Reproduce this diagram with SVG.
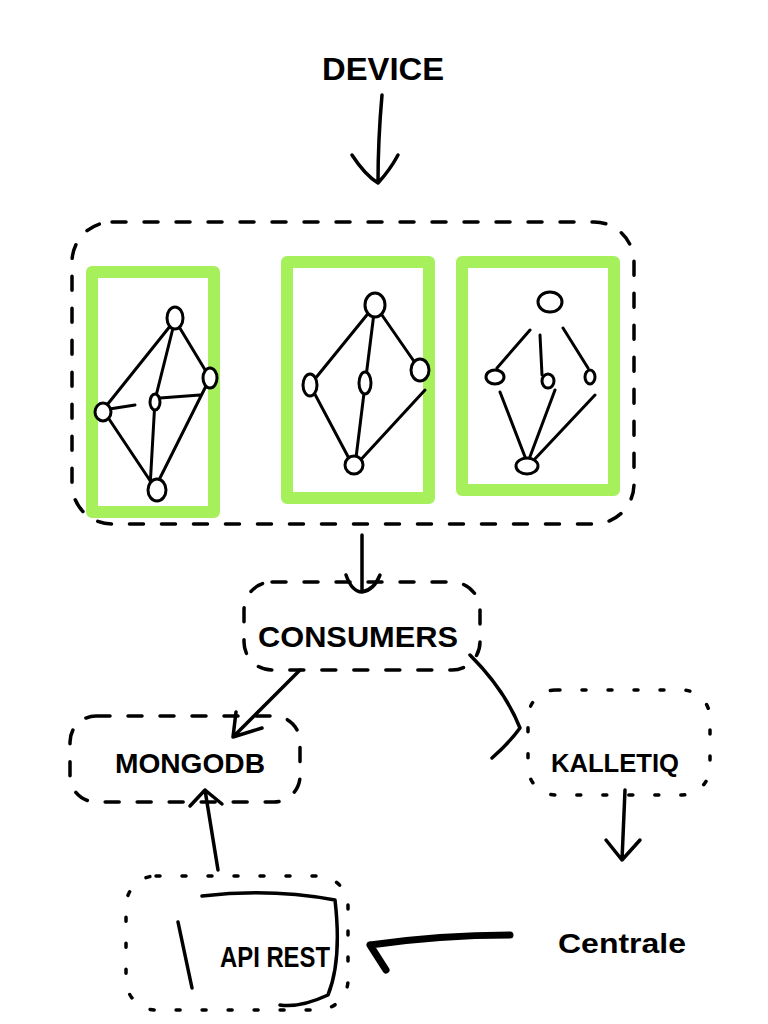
<svg xmlns="http://www.w3.org/2000/svg" width="768" height="1024" viewBox="0 0 768 1024">
<defs>
<style>
.lbl{font-family:"Liberation Sans",Arial,sans-serif;font-weight:bold;fill:#000;text-anchor:middle}
.dash{fill:none;stroke:#000;stroke-width:3.5;stroke-dasharray:14 18;stroke-linecap:round}
.dot{fill:none;stroke:#000;stroke-width:3.5;stroke-dasharray:4 22;stroke-linecap:round}
.green{fill:none;stroke:#a6f05c;stroke-width:12;stroke-linejoin:round}
.edge{fill:none;stroke:#000;stroke-width:3;stroke-linecap:round}
.node{fill:#fff;stroke:#000;stroke-width:3}
.arr{fill:none;stroke:#000;stroke-width:3.5;stroke-linecap:round;stroke-linejoin:round}
</style>
</defs>
<rect width="768" height="1024" fill="#fff"/>

<g id="device">
<text class="lbl" x="383" y="80" font-size="32" textLength="122" lengthAdjust="spacingAndGlyphs">DEVICE</text>
</g>

<g id="cluster">
<rect class="dash" x="72" y="222" width="562" height="302" rx="40"/>
</g>

<g id="graph1">
<rect class="green" x="92" y="272" width="122" height="240"/>
<path class="edge" d="M175 320 L103 410 M175 320 L155 400 L150 488 M175 320 L210 378 L155 488 M103 410 L155 488 M103 410 L135 405 M160 398 L200 395"/>
<ellipse class="node" cx="175" cy="318" rx="8" ry="11"/>
<ellipse class="node" cx="210" cy="378" rx="7" ry="10"/>
<ellipse class="node" cx="103" cy="412" rx="8" ry="9"/>
<ellipse class="node" cx="155" cy="402" rx="5" ry="8"/>
<ellipse class="node" cx="157" cy="490" rx="9" ry="11"/>
</g>

<g id="graph2">
<rect class="green" x="287" y="262" width="142" height="236"/>
<path class="edge" d="M375 305 L310 385 L353 466 M375 305 L365 385 L355 466 M375 305 L420 370 M425 390 L355 466"/>
<ellipse class="node" cx="375" cy="305" rx="10" ry="12"/>
<ellipse class="node" cx="310" cy="385" rx="7" ry="11"/>
<ellipse class="node" cx="365" cy="383" rx="6" ry="11"/>
<ellipse class="node" cx="420" cy="370" rx="9" ry="11"/>
<ellipse class="node" cx="354" cy="465" rx="9" ry="9"/>
</g>

<g id="graph3">
<rect class="green" x="462" y="262" width="152" height="228"/>
<path class="edge" d="M530 330 L497 368 M540 335 L542 375 M563 328 L588 368 M500 392 L527 462 M555 390 L528 462 M595 395 L532 462"/>
<ellipse class="node" cx="550" cy="302" rx="12" ry="10"/>
<ellipse class="node" cx="495" cy="377" rx="9" ry="7"/>
<ellipse class="node" cx="548" cy="381" rx="6" ry="7"/>
<ellipse class="node" cx="590" cy="377" rx="5" ry="7"/>
<ellipse class="node" cx="527" cy="466" rx="11" ry="8"/>
</g>

<g id="consumers">
<rect class="dash" x="244" y="582" width="236" height="88" rx="28"/>
<text class="lbl" x="358" y="647" font-size="30" textLength="200" lengthAdjust="spacingAndGlyphs">CONSUMERS</text>
</g>

<g id="mongodb">
<rect class="dash" x="70" y="716" width="230" height="86" rx="26"/>
<text class="lbl" x="190" y="773" font-size="28" textLength="150" lengthAdjust="spacingAndGlyphs">MONGODB</text>
</g>

<g id="kalletiq">
<rect class="dot" x="528" y="690" width="182" height="105" rx="28"/>
<text class="lbl" x="615" y="772" font-size="26" textLength="128" lengthAdjust="spacingAndGlyphs">KALLETIQ</text>
</g>

<g id="centrale">
<text class="lbl" x="622" y="953" font-size="28" textLength="128" lengthAdjust="spacingAndGlyphs">Centrale</text>
</g>

<g id="apirest">
<rect class="dot" x="126" y="876" width="222" height="134" rx="30"/>
<path class="arr" d="M202 896 Q270 888 335 900 Q342 960 328 995 Q300 1008 280 1005 M178 922 L192 988"/>
<text class="lbl" x="275" y="967" font-size="30" textLength="110" lengthAdjust="spacingAndGlyphs">API REST</text>
</g>

<g id="connectors">
<path class="arr" d="M382 95 Q378 140 378 183 M352 155 Q365 175 378 183 Q390 170 398 155"/>
<path class="arr" d="M362 535 L362 590 M346 575 Q352 592 362 592 Q374 590 380 575"/>
<path class="arr" d="M300 670 L235 735 M236 712 L233 737 L262 728"/>
<path class="arr" d="M218 870 L205 790 M190 806 L205 790 L222 804"/>
<path class="arr" d="M470 655 Q505 690 520 728 Q510 742 492 758"/>
<path class="arr" d="M625 790 L622 860 M606 840 L622 860 L640 840"/>
<path d="M510 935 Q440 935 370 945 M370 945 L386 970" fill="none" stroke="#000" stroke-width="7" stroke-linecap="round" stroke-linejoin="round"/>
</g>
</svg>
